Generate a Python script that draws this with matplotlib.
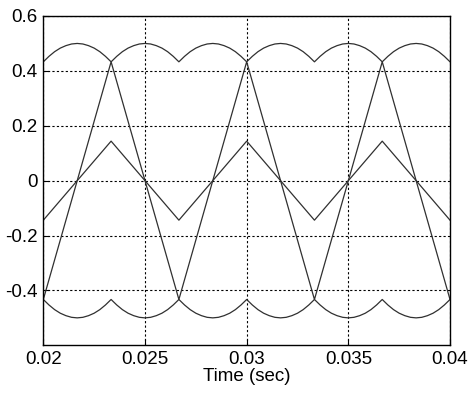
import numpy as np
import matplotlib.pyplot as plt

plt.rcParams['font.family'] = ['Liberation Sans', 'DejaVu Sans']

# time grid for the envelopes (0.02 .. 0.04 s), 12 samples per ripple arc
t_env = np.linspace(0.02, 0.04, 73)

# one ripple arc of the upper envelope
arc = [0.433, 0.453, 0.470, 0.483, 0.492, 0.498,
       0.500, 0.498, 0.492, 0.483, 0.470, 0.453]
upper_env = arc * 6 + [0.433]
lower_env = [-v for v in upper_env]

# triangle waves, vertices
t_tri = [0.02, 0.023333, 0.026667, 0.03, 0.033333, 0.036667, 0.04]
big_tri = [-0.433, 0.433, -0.433, 0.433, -0.433, 0.433, -0.433]
small_tri = [-0.144, 0.144, -0.144, 0.144, -0.144, 0.144, -0.144]

xticks = [0.02, 0.025, 0.03, 0.035, 0.04]
xticklabels = ['0.02', '0.025', '0.03', '0.035', '0.04']
yticks = [-0.4, -0.2, 0, 0.2, 0.4, 0.6]
yticklabels = ['-0.4', '-0.2', '0', '0.2', '0.4', '0.6']

fig = plt.figure(figsize=(4.74, 3.97), dpi=100)
ax = fig.add_axes([0.0914, 0.1302, 0.858, 0.8295])

lc = '#303030'
ax.plot(t_env, upper_env, color=lc, lw=0.9)
ax.plot(t_env, lower_env, color=lc, lw=0.9)
ax.plot(t_tri, big_tri, color=lc, lw=0.9)
ax.plot(t_tri, small_tri, color=lc, lw=0.9)

ax.set_xlim(0.02, 0.04)
ax.set_ylim(-0.6, 0.6)
ax.set_xticks(xticks)
ax.set_xticklabels(xticklabels)
ax.set_yticks(yticks)
ax.set_yticklabels(yticklabels)
ax.tick_params(direction='in', length=4, labelsize=13.5, color='black', pad=4)
ax.grid(True, color='black', linestyle=(0, (2, 2)), linewidth=0.8)
for s in ax.spines.values():
    s.set_linewidth(1.0)
ax.set_xlabel('Time (sec)', fontsize=13.5, labelpad=0)

fig.savefig('out.png', dpi=100)
